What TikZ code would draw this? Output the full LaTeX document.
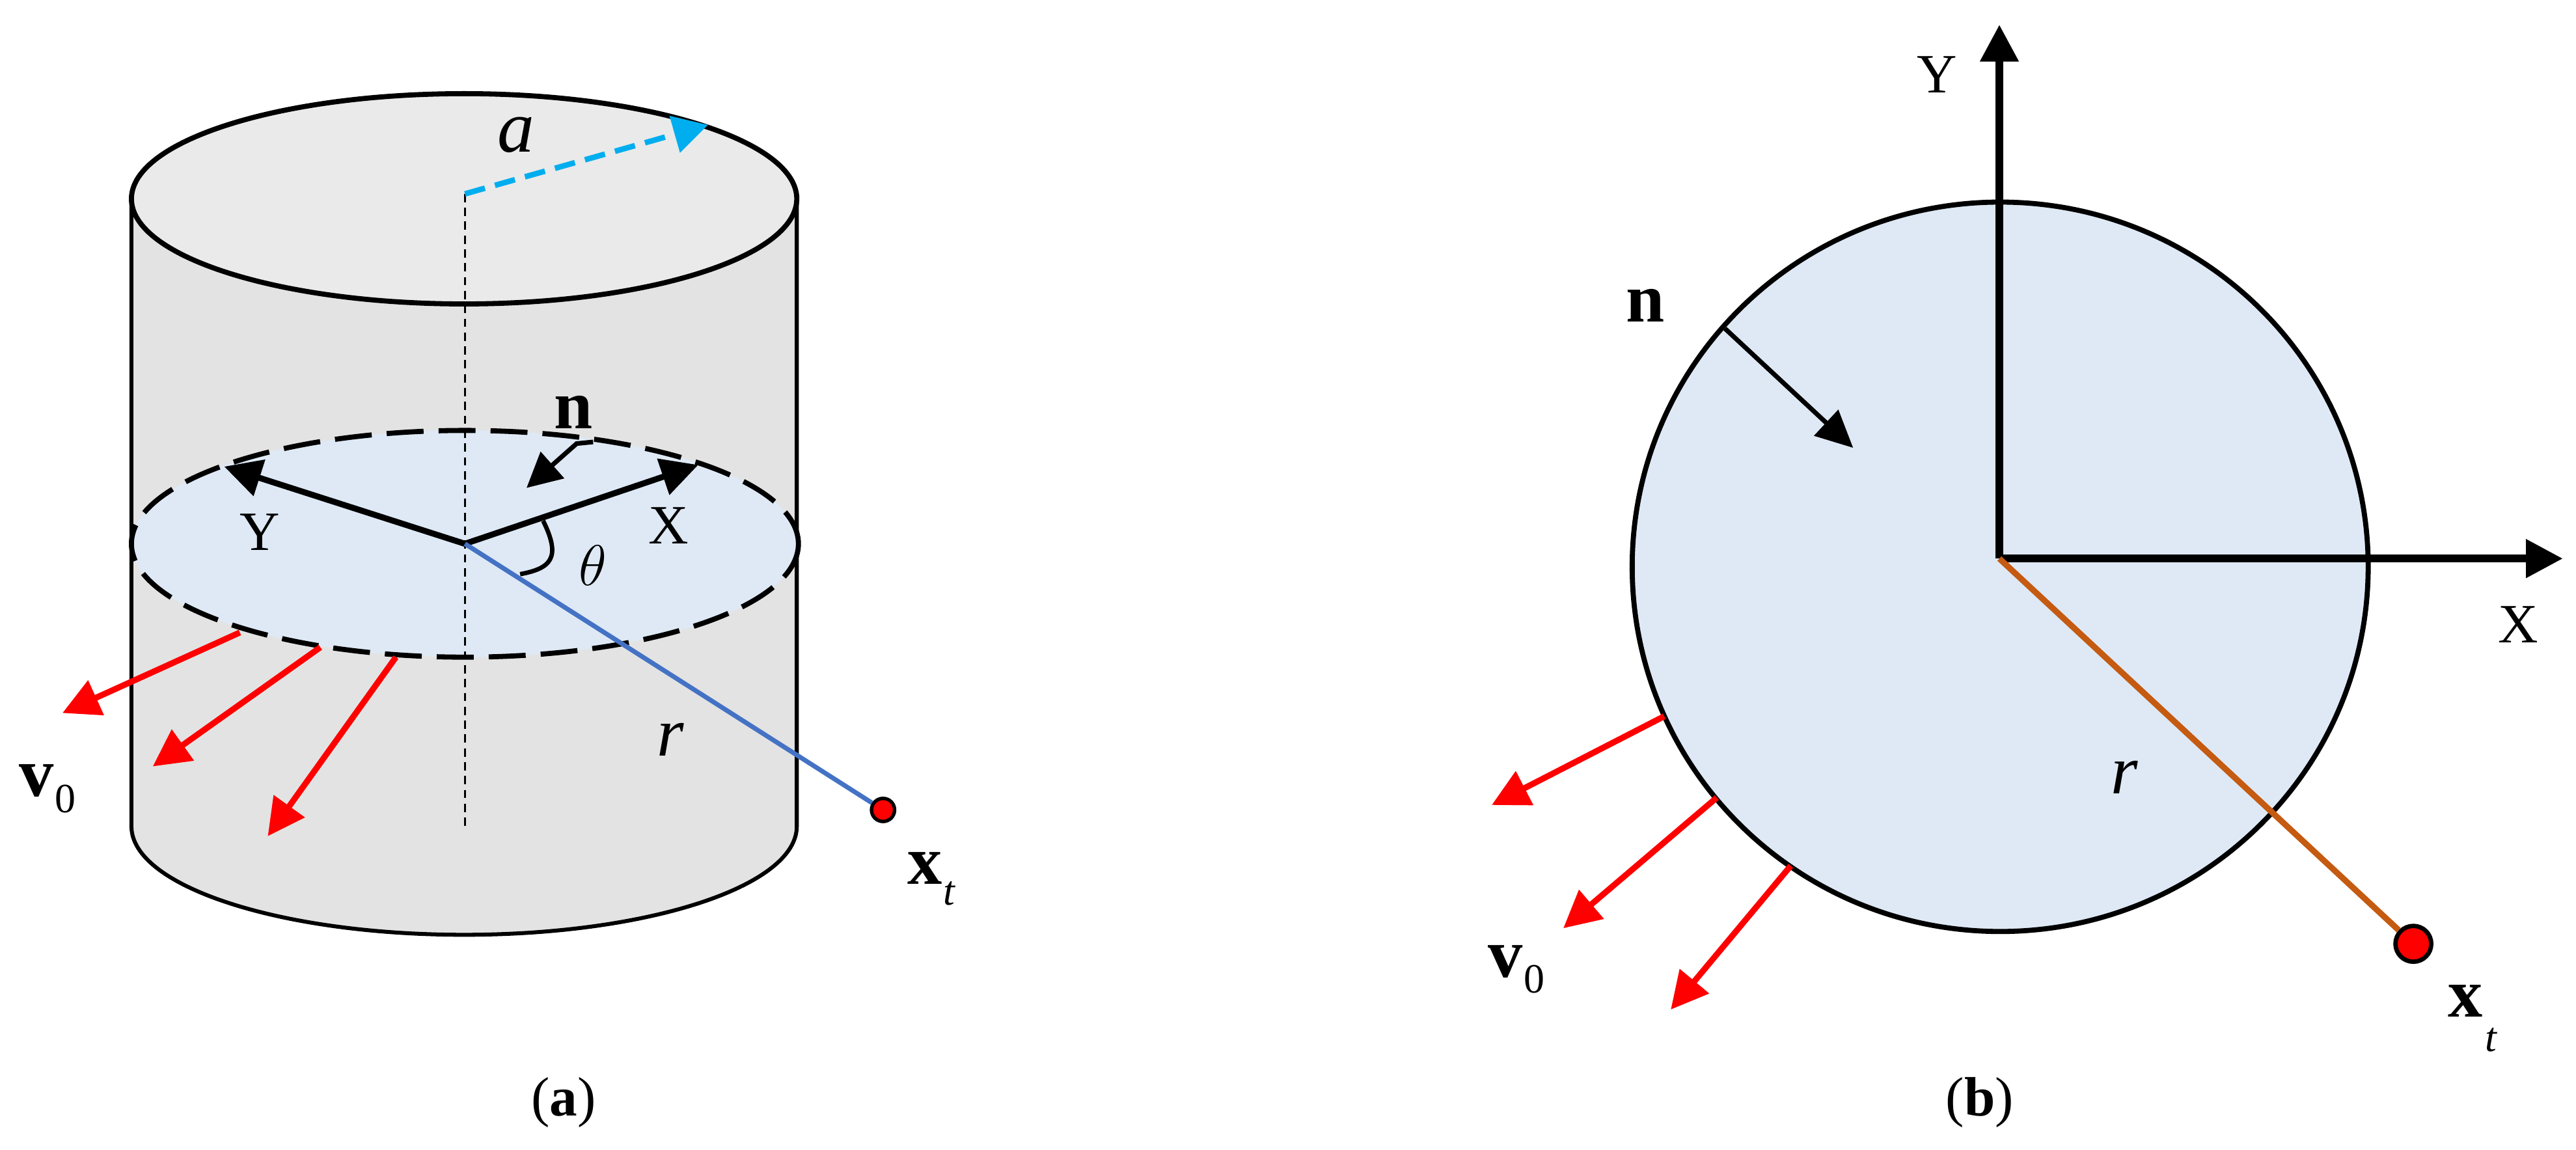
\documentclass[tikz,border=0pt]{standalone}
\usepackage{fontspec}
\setmainfont{Liberation Serif}
\usetikzlibrary{arrows.meta}
\definecolor{cylgray}{HTML}{E3E3E3}
\definecolor{topgray}{HTML}{EAEAEA}
\definecolor{diskblue}{HTML}{DEE9F5}
\definecolor{skyblue}{HTML}{00AEEF}
\definecolor{radblue}{HTML}{4472C4}
\definecolor{radbrown}{HTML}{C55A11}
\newcommand{\fsz}[1]{\fontsize{#1}{#1}\selectfont}
\newcommand{\subbed}[4]{{\bfseries #1}\hspace{#3}\raisebox{#4}{\fsz{18}#2}}
\begin{document}
\begin{tikzpicture}[x=0.025cm, y=-0.025cm,
      lab/.style = {inner sep=0pt, outer sep=0pt},
      upright/.style = {lab, font=\fsz{24}},
      ital/.style = {lab, font=\fsz{30}\itshape},
      bold/.style = {lab, font=\fsz{30}\bfseries},
      outline/.style = {draw=black, line width=2.2pt},
      thinaxis/.style = {draw=black, line width=1pt, dash pattern=on 3.6pt off 2.4pt},
      velo/.style = {draw=red, line width=2.6pt, -{Triangle[length=16pt,width=16pt]}},
      frameA/.style = {draw=black, line width=2.6pt, -{Triangle[length=16pt,width=16pt]}},
      frameB/.style = {draw=black, line width=3.4pt, -{Triangle[length=16pt,width=16pt]}},
      dotnode/.style = {draw=black, line width=1.5pt, fill=red, inner sep=0pt, circle}]
  \useasboundingbox (0,0) rectangle (1568,700);

  % cylinder
  \fill[cylgray] (80,121) -- (80,503) arc[start angle=180, end angle=360, x radius=202.5, y radius=-66]
    -- (485,121) -- cycle;
  \draw[outline, line width=1.7pt] (80,121) -- (80,503) arc[start angle=180, end angle=360, x radius=202.5, y radius=-66]
    -- (485,121);
  \draw[outline, fill=topgray] (282.5,121) ellipse[x radius=202.5, y radius=64];
  \draw[outline, fill=diskblue, dash pattern=on 16pt off 6.5pt] (283,331) ellipse[x radius=203, y radius=69];

  \coordinate (axistop) at (283,118);
  \coordinate (axisbot) at (283,503);
  \coordinate (origA) at (283,331);
  \coordinate (rimA) at (431,76);
  \draw[thinaxis] (axistop) -- (axisbot);
  \draw[draw=skyblue, line width=2.4pt, dash pattern=on 9pt off 4.5pt, -{Triangle[length=15pt,width=16pt]}] (axistop) -- (rimA);

  % local axes, left
  \coordinate (xtipA) at (425,283);
  \coordinate (ytipA) at (136.5,284);
  \draw[frameA] (origA) -- (xtipA);
  \draw[frameA] (origA) -- (ytipA);
  \coordinate (ncurl) at (361,269);
  \coordinate (nbend) at (351,270);
  \coordinate (ntipA) at (320.5,297);
  \draw[draw=black, line width=2pt, -{Triangle[length=15pt,width=15pt]}] (ncurl) -- (nbend) -- (ntipA);
  \coordinate (thA) at (330.6,317);
  \coordinate (thB) at (316.6,349.5);
  \draw[draw=black, line width=1.9pt] (thA) .. controls (342,340) and (335,346) .. (thB);

  % target point, left
  \node[dotnode, minimum size=10pt] (dotA) at (537.5,493) {};
  \draw[draw=radblue, line width=2pt] (origA) -- (dotA);

  % wall velocities, left
  \coordinate (wa1) at (146,385);
  \coordinate (wa2) at (195,394);
  \coordinate (wa3) at (241,400);
  \coordinate (ta1) at (38,434);
  \coordinate (ta2) at (93,466.5);
  \coordinate (ta3) at (163,509);
  \foreach \i in {1,2,3}
    \draw[velo] (wa\i) -- (ta\i);

  \node[ital, font=\fsz{32}\itshape] (aLab) at (314,82) {a};
  \node[bold] (nLabA) at (349,251) {n};
  \node[upright] (yLabA) at (158,324) {Y};
  \node[upright] (xLabA) at (407,320) {X};
  \node[ital, font=\fsz{23}\itshape] (thetaLab) at (361,344) {$\theta$};
  \node[ital] (rLabA) at (408,450) {r};
  \node[lab, font=\fsz{30}] (v0A) at (29,480) {\subbed{v}{0}{0.5pt}{-7pt}};
  \node[lab, font=\fsz{30}] (xtA) at (567,535) {\subbed{x}{\itshape t}{0.5pt}{-9pt}};
  \node[lab, font=\fsz{24}] (capA) at (343,671) {(\textbf{a})};

  % disc, right
  \coordinate (origB) at (1217,340);
  \coordinate (xtipB) at (1560,340);
  \coordinate (ytipB) at (1217,15);
  \draw[outline, fill=diskblue] (1217.5,345) ellipse[x radius=224, y radius=222];
  \draw[frameB] (origB) -- (xtipB);
  \draw[frameB] (origB) -- (ytipB);
  \coordinate (nrim) at (1050,200);
  \coordinate (ntipB) at (1128,272.6);
  \draw[draw=black, line width=2pt, -{Triangle[length=16pt,width=15pt]}] (nrim) -- (ntipB);

  \node[dotnode, minimum size=15.5pt, line width=1.9pt] (dotB) at (1469,574.5) {};
  \draw[draw=radbrown, line width=2.6pt] (origB) -- (dotB);

  \coordinate (wb1) at (1013,436);
  \coordinate (wb2) at (1045,485.5);
  \coordinate (wb3) at (1090,527);
  \coordinate (tb1) at (908,490);
  \coordinate (tb2) at (951.6,565);
  \coordinate (tb3) at (1017,614.5);
  \foreach \i in {1,2,3}
    \draw[velo] (wb\i) -- (tb\i);

  \node[bold] (nLabB) at (1001.5,186) {n};
  \node[upright] (yLabB) at (1179,45.5) {Y};
  \node[upright] (xLabB) at (1533,380) {X};
  \node[ital] (rLabB) at (1293,473) {r};
  \node[lab, font=\fsz{30}] (v0B) at (923,590) {\subbed{v}{0}{0.5pt}{-7pt}};
  \node[lab, font=\fsz{30}] (xtB) at (1505,620) {\subbed{x}{\itshape t}{1pt}{-15pt}};
  \node[lab, font=\fsz{24}] (capB) at (1205,671) {(\textbf{b})};
\end{tikzpicture}
\end{document}
